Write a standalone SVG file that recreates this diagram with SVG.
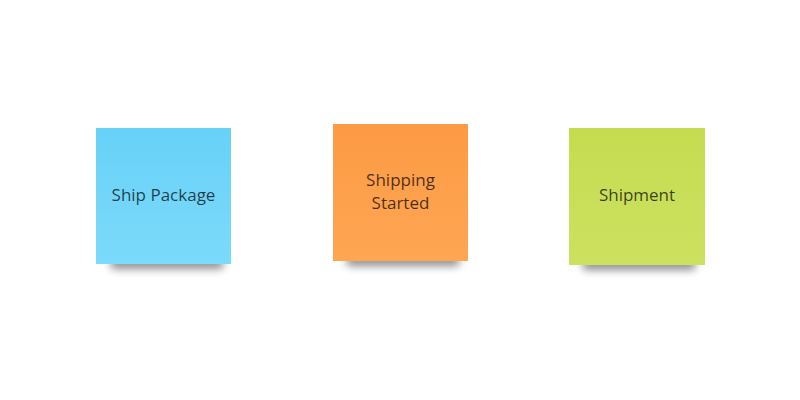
<svg xmlns="http://www.w3.org/2000/svg" width="800" height="400" viewBox="0 0 800 400">
<defs>
<filter id="sh" x="-30%" y="-200%" width="160%" height="500%"><feGaussianBlur stdDeviation="4.5"/></filter>
<linearGradient id="gb" x1="0" y1="0" x2="0" y2="1"><stop offset="0" stop-color="#67d1f7"/><stop offset="1" stop-color="#7cdafb"/></linearGradient>
<linearGradient id="go" x1="0" y1="0" x2="0" y2="1"><stop offset="0" stop-color="#fd9a45"/><stop offset="1" stop-color="#fea653"/></linearGradient>
<linearGradient id="gg" x1="0" y1="0" x2="0" y2="1"><stop offset="0" stop-color="#c5dc51"/><stop offset="1" stop-color="#cde160"/></linearGradient>
</defs>
<style>
.shadow{fill:#000;opacity:0.45;filter:url(#sh)}
.lbl{font-family:"Open Sans","Noto Sans",sans-serif;font-size:17px;text-anchor:middle;fill:#000;fill-opacity:0.72}
</style>
<rect width="800" height="400" fill="#fff"/>
<g id="connectors"/>
<g id="ship-package">
<rect class="shadow" x="110" y="258" width="114" height="11" rx="5"/>
<rect x="96" y="128" width="135" height="136" fill="url(#gb)"/>
<text class="lbl" x="163.5" y="201">Ship Package</text>
</g>
<g id="shipping-started">
<rect class="shadow" x="346" y="255" width="114" height="11" rx="5"/>
<rect x="333" y="124" width="135" height="137" fill="url(#go)"/>
<text class="lbl" x="400.5" y="186">Shipping</text>
<text class="lbl" x="400.5" y="209">Started</text>
</g>
<g id="shipment">
<rect class="shadow" x="582" y="259" width="114" height="11" rx="5"/>
<rect x="569" y="128" width="136" height="137" fill="url(#gg)"/>
<text class="lbl" x="637" y="201">Shipment</text>
</g>
</svg>
